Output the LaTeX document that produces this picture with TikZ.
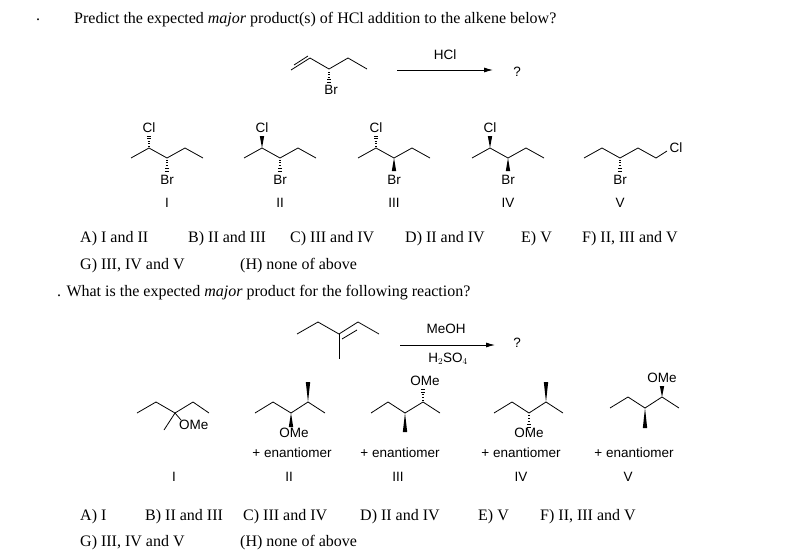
\documentclass[tikz,border=0pt]{standalone}
\usepackage{fontspec}
\setmainfont{Liberation Serif}
\newfontfamily\chemf{Liberation Sans}
\usetikzlibrary{calc,arrows.meta}
\tikzset{
  txt/.style={anchor=west,inner sep=0pt,font=\fontsize{16}{18}\selectfont},
  lab/.style={inner sep=0pt,font=\chemf\fontsize{13.5}{15}\selectfont},
  bond/.style={line width=0.8pt},
  rarrow/.style={line width=0.8pt,-{Latex[length=9pt,width=5pt]}},
}
\newcommand\wdg[3]{\fill (#1,#2) -- (#1+2.2,#3) -- (#1-2.2,#3) -- cycle;}
\newcommand\hsh[3]{\foreach \t in {0.15,0.36,0.57,0.78,1.0}{\draw[line width=0.6pt] ({#1-0.3-1.9*\t},{#2+(#3-#2)*\t}) -- ({#1+0.3+1.9*\t},{#2+(#3-#2)*\t});}}
\begin{document}
\begin{tikzpicture}[x=1pt,y=-1pt]
\useasboundingbox (0,0) rectangle (791,557);
\fill[white] (0,0) rectangle (791,557);
% question 1
\node[txt] (d1) at (36,20) {.};
\node[txt] (q1) at (74,20) {Predict the expected \textit{major} product(s) of HCl addition to the alkene below?};
\draw[bond] (291,70) -- (310,58) -- (329,69) -- (348,58) -- (367,69);
\draw[bond] (294,65) -- (308,56);
\hsh{329}{70}{82}
\node[lab] (br0) at (331,90) {Br};
\node[lab] (hcl) at (445,55) {HCl};
\coordinate (a1s) at (397,70); \coordinate (a1e) at (493,70);
\draw[rarrow] (a1s) -- (a1e);
\node[lab] (q1m) at (517,72) {?};
% products I-IV
\foreach \x/\num in {149/I,262/II,376/III,490/IV}{
  \draw[bond] (\x-18,158) -- (\x,148) -- (\x+18,158) -- (\x+36,148) -- (\x+54,158);
  \node[lab] at (\x,128) {Cl};
  \node[lab] at (\x+18,180) {Br};
  \node[lab] at (\x+18,203) {\num};
}
\hsh{149}{148}{136}\hsh{167}{158}{171}
\wdg{262}{148}{136}\hsh{280}{158}{171}
\hsh{376}{148}{136}\wdg{394}{158}{171}
\wdg{490}{148}{136}\wdg{508}{158}{171}
\draw[bond] (584,158) -- (602,148) -- (620,158) -- (638,148) -- (656,158) -- (667,151);
\node[lab] at (676,148) {Cl};
\hsh{620}{158}{171}
\node[lab] at (620,180) {Br};
\node[lab] at (620,203) {V};
% answers 1
\node[txt] at (80,239) {A) I and II};
\node[txt] at (188,239) {B) II and III};
\node[txt] at (290,239) {C) III and IV};
\node[txt] at (405,239) {D) II and IV};
\node[txt] at (521,239) {E) V};
\node[txt] at (582,239) {F) II, III and V};
\node[txt] at (80,266) {G) III, IV and V};
\node[txt] at (240,266) {(H) none of above};
% question 2
\node[txt] (q2) at (57,293) {. What is the expected \textit{major} product for the following reaction?};
\draw[bond] (297,334) -- (318,322) -- (339,334) -- (358,322) -- (379,334);
\draw[bond] (339,334) -- (339,359);
\draw[bond] (342,339) -- (357,330);
\node[lab] at (446,329) {MeOH};
\draw[rarrow] (400,345) -- (495,345);
\node[lab] at (448,359) {H$_2$SO$_4$};
\node[lab] at (517,343) {?};
% product I
\draw[bond] (137,413) -- (156,402) -- (175,413) -- (193,402) -- (209,413);
\draw[bond] (175,413) -- (164,430);
\draw[bond] (175,413) -- (181,420);
\node[lab,anchor=west] at (179,425) {OMe};
\node[lab] at (174,477) {I};
% II
\draw[bond] (255,413) -- (273,402) -- (291,413) -- (308,402) -- (325,413);
\wdg{291}{413}{427}\wdg{308}{402}{382}
\node[lab] at (294,433) {OMe};
\node[lab] at (292,453) {+ enantiomer};
\node[lab] at (289,477) {II};
% III
\draw[bond] (371,413) -- (388,402) -- (405,413) -- (423,402) -- (440,413);
\wdg{405}{413}{432}\hsh{423}{402}{389}
\node[lab] at (425,381) {OMe};
\node[lab] at (400,453) {+ enantiomer};
\node[lab] at (398,477) {III};
% IV
\draw[bond] (494,413) -- (512,402) -- (529,413) -- (546,402) -- (563,413);
\hsh{529}{413}{427}\wdg{546}{402}{382}
\node[lab] at (529,433) {OMe};
\node[lab] at (521,453) {+ enantiomer};
\node[lab] at (521,477) {IV};
% V
\draw[bond] (610,408) -- (628,397) -- (645,408) -- (662,397) -- (679,408);
\wdg{645}{408}{428}\wdg{662}{397}{386}
\node[lab] at (662,378) {OMe};
\node[lab] at (634,453) {+ enantiomer};
\node[lab] at (628,477) {V};
% answers 2
\node[txt] at (80,517) {A) I};
\node[txt] at (145,517) {B) II and III};
\node[txt] at (243,517) {C) III and IV};
\node[txt] at (360,517) {D) II and IV};
\node[txt] at (478,517) {E) V};
\node[txt] at (540,517) {F) II, III and V};
\node[txt] at (80,543) {G) III, IV and V};
\node[txt] at (240,543) {(H) none of above};
\end{tikzpicture}
\end{document}
